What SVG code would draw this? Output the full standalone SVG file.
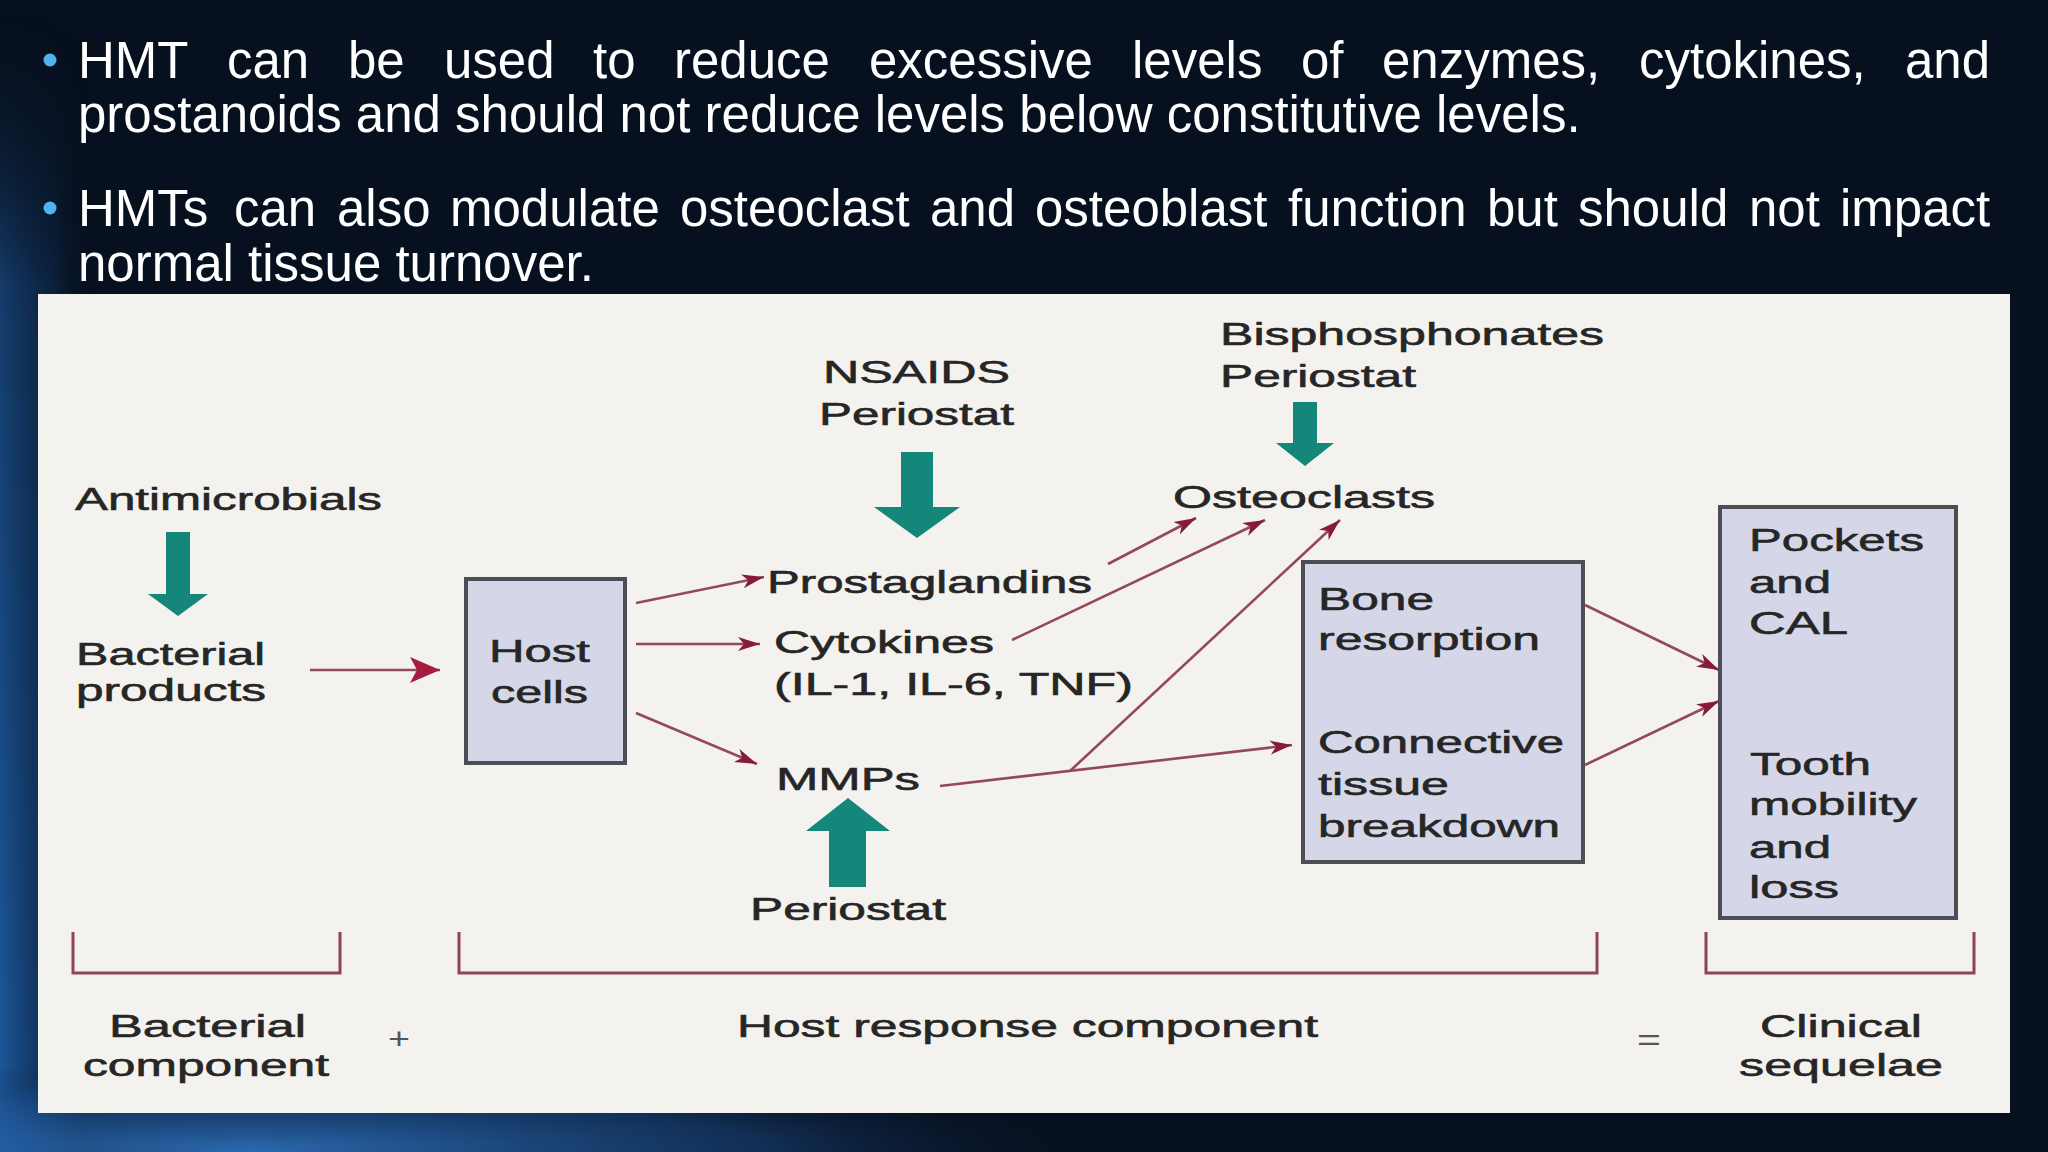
<svg xmlns="http://www.w3.org/2000/svg" width="2048" height="1152" viewBox="0 0 2048 1152">
<defs>
<style>
.bt{font-family:"Liberation Sans",Arial,sans-serif;font-size:51px;fill:#ffffff}
.t{font-family:"Liberation Sans",Arial,sans-serif;font-size:32px;fill:#262626;stroke:#262626;stroke-width:0.6}
.sym{font-family:"Liberation Sans",Arial,sans-serif;font-size:30px;fill:#555555}
.box{fill:#d5d7e8;stroke:#4d4d56;stroke-width:4}
.green{fill:#15877a}
.con{stroke:#94495b;stroke-width:2.6;fill:none}
.brk{stroke:#8c4456;stroke-width:3;fill:none}
</style>
<marker id="ah" markerUnits="userSpaceOnUse" markerWidth="24" markerHeight="16" refX="22" refY="8" orient="auto">
<path d="M0,1 L22,8 L0,15 L6,8 z" fill="#861a3a"/>
</marker>
<marker id="ahBig" markerUnits="userSpaceOnUse" markerWidth="32" markerHeight="28" refX="30" refY="14" orient="auto">
<path d="M0,1 L30,14 L0,27 L7,14 z" fill="#a31d40"/>
</marker>
<linearGradient id="leftGlow" x1="0" y1="0" x2="1" y2="0">
<stop offset="0" stop-color="#1f5fa6" stop-opacity="0.95"/>
<stop offset="0.6" stop-color="#174a86" stop-opacity="0.5"/>
<stop offset="1" stop-color="#0a1a33" stop-opacity="0"/>
</linearGradient>
<linearGradient id="leftFade" x1="0" y1="0" x2="0" y2="1">
<stop offset="0" stop-color="#000" stop-opacity="0"/>
<stop offset="0.25" stop-color="#fff" stop-opacity="0.6"/>
<stop offset="1" stop-color="#fff" stop-opacity="1"/>
</linearGradient>
<mask id="lm"><rect x="0" y="0" width="90" height="1152" fill="url(#leftFade)"/></mask>
<radialGradient id="botGlow" cx="0.5" cy="0.5" r="0.5">
<stop offset="0" stop-color="#2f72bd" stop-opacity="0.9"/>
<stop offset="0.6" stop-color="#1c4f8e" stop-opacity="0.5"/>
<stop offset="1" stop-color="#0a1a33" stop-opacity="0"/>
</radialGradient>
</defs>

<g id="background">
<rect x="0" y="0" width="2048" height="1152" fill="#07101f"/>
<rect x="0" y="0" width="90" height="1152" fill="url(#leftGlow)" mask="url(#lm)"/>
<ellipse cx="250" cy="1150" rx="850" ry="90" fill="url(#botGlow)"/>
</g>

<g id="bullets">
<circle cx="50" cy="60" r="6.5" fill="#4fb3f0"/>
<circle cx="50" cy="208" r="6.5" fill="#4fb3f0"/>
<text class="bt" y="78"><tspan x="78">HMT</tspan><tspan x="227">can</tspan><tspan x="348">be</tspan><tspan x="444">used</tspan><tspan x="593">to</tspan><tspan x="674">reduce</tspan><tspan x="869">excessive</tspan><tspan x="1132">levels</tspan><tspan x="1301">of</tspan><tspan x="1382">enzymes,</tspan><tspan x="1639">cytokines,</tspan><tspan x="1905">and</tspan></text>
<text class="bt" x="78" y="132">prostanoids and should not reduce levels below constitutive levels.</text>
<text class="bt" y="226"><tspan x="78">HMTs</tspan><tspan x="234">can</tspan><tspan x="337">also</tspan><tspan x="450">modulate</tspan><tspan x="680">osteoclast</tspan><tspan x="930">and</tspan><tspan x="1035">osteoblast</tspan><tspan x="1288">function</tspan><tspan x="1487">but</tspan><tspan x="1578">should</tspan><tspan x="1749">not</tspan><tspan x="1840">impact</tspan></text>
<text class="bt" x="78" y="281">normal tissue turnover.</text>
</g>

<rect id="panel" x="38" y="294" width="1972" height="819" fill="#f4f2ee"/>

<g id="connectors">
<line class="con" x1="310" y1="670" x2="440" y2="670" stroke-width="4" marker-end="url(#ahBig)"/>
<line class="con" x1="636" y1="603" x2="764" y2="577" marker-end="url(#ah)"/>
<line class="con" x1="636" y1="644" x2="760" y2="644" marker-end="url(#ah)"/>
<line class="con" x1="636" y1="713" x2="757" y2="764" marker-end="url(#ah)"/>
<line class="con" x1="1108" y1="564" x2="1196" y2="518" marker-end="url(#ah)"/>
<line class="con" x1="1012" y1="640" x2="1265" y2="520" marker-end="url(#ah)"/>
<line class="con" x1="940" y1="786" x2="1292" y2="745" marker-end="url(#ah)"/>
<line class="con" x1="1070" y1="771" x2="1340" y2="520" marker-end="url(#ah)"/>
<line class="con" x1="1585" y1="605" x2="1719" y2="670" marker-end="url(#ah)"/>
<line class="con" x1="1585" y1="765" x2="1719" y2="701" marker-end="url(#ah)"/>
</g>

<g id="antimicrobials">
<text class="t" x="75" y="510" textLength="307" lengthAdjust="spacingAndGlyphs">Antimicrobials</text>
<polygon class="green" points="166,532 190,532 190,594 208,594 178,616 148,594 166,594"/>
</g>

<g id="bacterial-products">
<text class="t" x="76" y="665" textLength="189" lengthAdjust="spacingAndGlyphs">Bacterial</text>
<text class="t" x="76" y="701" textLength="190" lengthAdjust="spacingAndGlyphs">products</text>
</g>

<g id="host-cells">
<rect class="box" x="466" y="579" width="159" height="184"/>
<text class="t" x="489" y="662" textLength="101" lengthAdjust="spacingAndGlyphs">Host</text>
<text class="t" x="491" y="703" textLength="97" lengthAdjust="spacingAndGlyphs">cells</text>
</g>

<g id="nsaids">
<text class="t" x="823" y="383" textLength="187" lengthAdjust="spacingAndGlyphs">NSAIDS</text>
<text class="t" x="819" y="425" textLength="195" lengthAdjust="spacingAndGlyphs">Periostat</text>
<polygon class="green" points="901,452 933,452 933,507 960,507 917,538 874,507 901,507"/>
</g>

<g id="prostaglandins">
<text class="t" x="767" y="593" textLength="325" lengthAdjust="spacingAndGlyphs">Prostaglandins</text>
</g>

<g id="cytokines">
<text class="t" x="774" y="653" textLength="220" lengthAdjust="spacingAndGlyphs">Cytokines</text>
<text class="t" x="774" y="695" textLength="359" lengthAdjust="spacingAndGlyphs">(IL-1, IL-6, TNF)</text>
</g>

<g id="mmps">
<text class="t" x="776" y="790" textLength="144" lengthAdjust="spacingAndGlyphs">MMPs</text>
</g>

<g id="periostat-mmps">
<polygon class="green" points="848,798 890,831 866,831 866,887 829,887 829,831 806,831"/>
<text class="t" x="750" y="920" textLength="196" lengthAdjust="spacingAndGlyphs">Periostat</text>
</g>

<g id="bisphosphonates">
<text class="t" x="1220" y="345" textLength="384" lengthAdjust="spacingAndGlyphs">Bisphosphonates</text>
<text class="t" x="1220" y="387" textLength="196" lengthAdjust="spacingAndGlyphs">Periostat</text>
<polygon class="green" points="1293,402 1317,402 1317,443 1334,443 1305,466 1276,443 1293,443"/>
</g>

<g id="osteoclasts">
<text class="t" x="1173" y="508" textLength="262" lengthAdjust="spacingAndGlyphs">Osteoclasts</text>
</g>

<g id="bone-connective">
<rect class="box" x="1303" y="562" width="280" height="300"/>
<text class="t" x="1318" y="610" textLength="116" lengthAdjust="spacingAndGlyphs">Bone</text>
<text class="t" x="1318" y="650" textLength="222" lengthAdjust="spacingAndGlyphs">resorption</text>
<text class="t" x="1318" y="753" textLength="246" lengthAdjust="spacingAndGlyphs">Connective</text>
<text class="t" x="1318" y="795" textLength="131" lengthAdjust="spacingAndGlyphs">tissue</text>
<text class="t" x="1318" y="837" textLength="242" lengthAdjust="spacingAndGlyphs">breakdown</text>
</g>

<g id="clinical-box">
<rect class="box" x="1720" y="507" width="236" height="411"/>
<text class="t" x="1749" y="551" textLength="175" lengthAdjust="spacingAndGlyphs">Pockets</text>
<text class="t" x="1749" y="593" textLength="82" lengthAdjust="spacingAndGlyphs">and</text>
<text class="t" x="1749" y="634" textLength="99" lengthAdjust="spacingAndGlyphs">CAL</text>
<text class="t" x="1750" y="775" textLength="121" lengthAdjust="spacingAndGlyphs">Tooth</text>
<text class="t" x="1749" y="815" textLength="168" lengthAdjust="spacingAndGlyphs">mobility</text>
<text class="t" x="1749" y="858" textLength="82" lengthAdjust="spacingAndGlyphs">and</text>
<text class="t" x="1749" y="898" textLength="90" lengthAdjust="spacingAndGlyphs">loss</text>
</g>

<g id="brackets">
<path class="brk" d="M73,932 V973 H340 V932"/>
<path class="brk" d="M459,932 V973 H1597 V932"/>
<path class="brk" d="M1706,932 V973 H1974 V932"/>
</g>

<g id="bacterial-component">
<text class="t" x="109" y="1037" textLength="197" lengthAdjust="spacingAndGlyphs">Bacterial</text>
<text class="t" x="83" y="1076" textLength="246" lengthAdjust="spacingAndGlyphs">component</text>
</g>
<text class="sym" x="388" y="1049" textLength="22" lengthAdjust="spacingAndGlyphs">+</text>
<g id="host-response-component">
<text class="t" x="737" y="1037" textLength="581" lengthAdjust="spacingAndGlyphs">Host response component</text>
</g>
<text class="sym" x="1637" y="1050" textLength="24" lengthAdjust="spacingAndGlyphs">=</text>
<g id="clinical-sequelae">
<text class="t" x="1760" y="1037" textLength="162" lengthAdjust="spacingAndGlyphs">Clinical</text>
<text class="t" x="1739" y="1076" textLength="204" lengthAdjust="spacingAndGlyphs">sequelae</text>
</g>
</svg>
